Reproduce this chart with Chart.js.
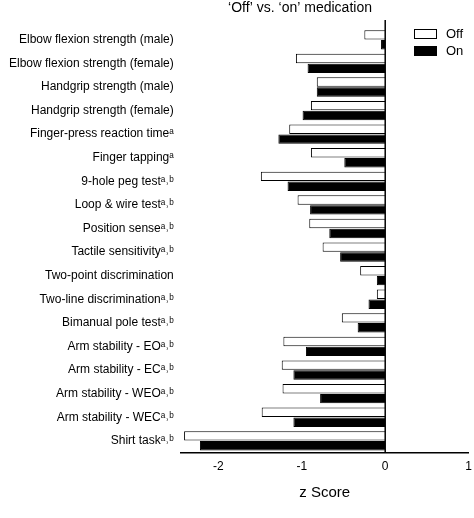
<!DOCTYPE html>
<html lang="en">
<head>
    <meta charset="UTF-8">
    <title>Off vs on medication</title>
    <script src="https://cdn.jsdelivr.net/npm/chart.js"></script>
    <style>
        body { margin: 0; background: #fff; }
        #wrap { width: 474px; height: 518px; }
    </style>
</head>
<body>
    <div id="wrap"><canvas id="myChart"></canvas></div>
    <script>
        // Setup Block
        const labels = [
            'Elbow flexion strength (male)',
            'Elbow flexion strength (female)',
            'Handgrip strength (male)',
            'Handgrip strength (female)',
            'Finger-press reaction timeᵃ',
            'Finger tappingᵃ',
            '9-hole peg testᵃ˒ᵇ',
            'Loop & wire testᵃ˒ᵇ',
            'Position senseᵃ˒ᵇ',
            'Tactile sensitivityᵃ˒ᵇ',
            'Two-point discrimination',
            'Two-line discriminationᵃ˒ᵇ',
            'Bimanual pole testᵃ˒ᵇ',
            'Arm stability - EOᵃ˒ᵇ',
            'Arm stability - ECᵃ˒ᵇ',
            'Arm stability - WEOᵃ˒ᵇ',
            'Arm stability - WECᵃ˒ᵇ',
            'Shirt taskᵃ˒ᵇ'
        ];
        const offValues = [-0.25, -1.07, -0.82, -0.89, -1.15, -0.89, -1.49, -1.05, -0.91, -0.75, -0.30, -0.10, -0.52, -1.22, -1.24, -1.23, -1.48, -2.41];
        const onValues = [-0.05, -0.93, -0.82, -0.99, -1.28, -0.49, -1.17, -0.90, -0.67, -0.54, -0.10, -0.20, -0.33, -0.95, -1.10, -0.78, -1.10, -2.22];
        const xTicks = [-2, -1, 0, 1];

        const font = 'Liberation Sans, Arial, sans-serif';

        const data = {
            labels,
            datasets: [
                { label: 'Off', data: offValues, backgroundColor: '#fff', borderColor: '#000', borderWidth: 1 },
                { label: 'On', data: onValues, backgroundColor: '#000', borderColor: '#000', borderWidth: 1 }
            ]
        };

        // zero line, title, legend
        const extras = {
            id: 'extras',
            afterDatasetsDraw(chart) {
                const { ctx, chartArea, scales } = chart;
                const x0 = scales.x.getPixelForValue(0);
                ctx.save();
                ctx.strokeStyle = '#000';
                ctx.lineWidth = 1.5;
                ctx.beginPath();
                ctx.moveTo(x0, chartArea.top - 8);
                ctx.lineTo(x0, chartArea.bottom);
                ctx.stroke();
                ctx.fillStyle = '#000';
                ctx.font = '14px ' + font;
                ctx.textAlign = 'center';
                ctx.textBaseline = 'middle';
                ctx.fillText('‘Off’ vs. ‘on’ medication', 300, 8);

                // legend
                ctx.lineWidth = 1;
                ctx.font = '13px ' + font;
                ctx.textAlign = 'left';
                chart.data.datasets.forEach((ds, i) => {
                    const y = 29 + i * 17;
                    ctx.fillStyle = ds.backgroundColor;
                    ctx.fillRect(414.5, y + 0.5, 22, 9);
                    ctx.strokeRect(414.5, y + 0.5, 22, 9);
                    ctx.fillStyle = '#000';
                    ctx.fillText(ds.label, 446, y + 5);
                });
                ctx.restore();
            }
        };

        // Config Block
        const config = {
            type: 'bar',
            data,
            plugins: [extras],
            options: {
                indexAxis: 'y',
                responsive: true,
                maintainAspectRatio: false,
                animation: false,
                layout: { padding: { top: 28, right: 2, left: 6, bottom: 12 } },
                datasets: { bar: { categoryPercentage: 0.84, barPercentage: 0.95 } },
                scales: {
                    x: {
                        min: -2.45,
                        max: 1,
                        afterBuildTicks: axis => { axis.ticks = xTicks.map(v => ({ value: v })); },
                        grid: { display: false, drawTicks: true, tickLength: 5, tickColor: '#000' },
                        border: { color: '#000', width: 1.5 },
                        ticks: { color: '#000', font: { family: font, size: 12 }, padding: 2 },
                        title: { display: true, text: 'z Score', color: '#000', font: { family: font, size: 15 }, padding: { top: 8 } }
                    },
                    y: {
                        grid: { display: false, drawTicks: true, tickLength: 4, tickColor: '#000' },
                        border: { display: false },
                        ticks: { color: '#000', font: { family: font, size: 12 }, padding: 3, autoSkip: false }
                    }
                },
                plugins: {
                    legend: { display: false },
                    tooltip: { enabled: false }
                }
            }
        };

        // Render block
        const myChart = new Chart(document.getElementById('myChart'), config);
    </script>
</body>
</html>
